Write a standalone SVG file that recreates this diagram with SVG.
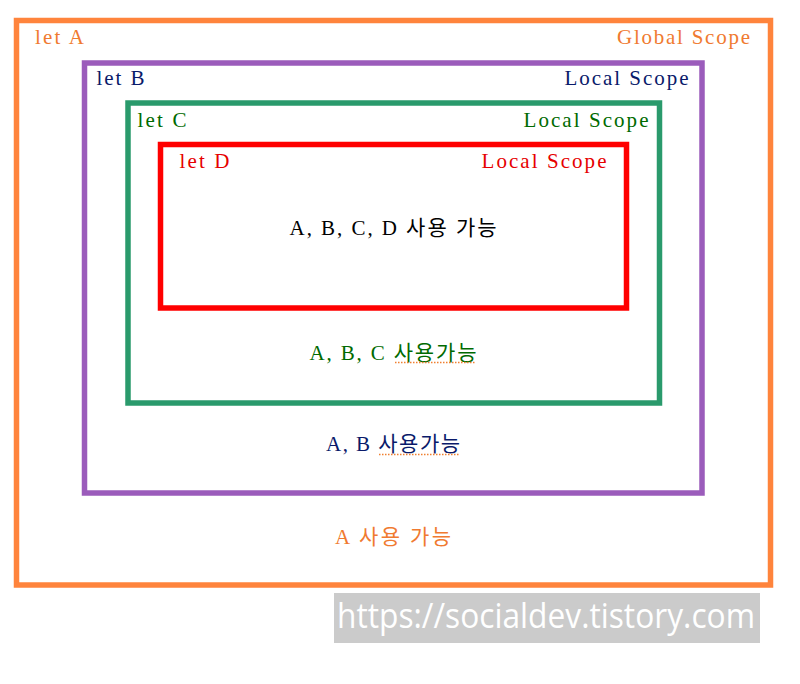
<svg xmlns="http://www.w3.org/2000/svg" width="800" height="684" viewBox="0 0 800 684">
<style>
.t{font-family:"Liberation Serif","Noto Sans CJK KR",serif;font-size:21px}
.box{fill:none;stroke-width:5.5}
.sq{stroke:#f08030;stroke-width:1.5;stroke-dasharray:1.5 1.5;fill:none}
</style>
<rect width="800" height="684" fill="#ffffff"/>
<g id="global">
<rect class="box" x="16.5" y="20.5" width="754" height="564.5" stroke="#ff843c" stroke-width="6"/>
<text class="t" x="35" y="43.5" fill="#f07a30" textLength="49" lengthAdjust="spacing">let A</text>
<text class="t" x="617" y="43.5" fill="#f07a30" textLength="133" lengthAdjust="spacing">Global Scope</text>
<text class="t" x="335" y="543.5" fill="#f07a30" textLength="116" lengthAdjust="spacing">A 사용 가능</text>
</g>
<g id="localB">
<rect class="box" x="84.5" y="63" width="617.5" height="430" stroke="#9b5cbb"/>
<text class="t" x="96.5" y="85" fill="#0a1a6a" textLength="48" lengthAdjust="spacing">let B</text>
<text class="t" x="564.5" y="85" fill="#0a1a6a" textLength="124" lengthAdjust="spacing">Local Scope</text>
<text class="t" x="326" y="451" fill="#0a1a6a" textLength="134" lengthAdjust="spacing">A, B 사용가능</text>
<path class="sq" d="M379 454.5H460"/>
</g>
<g id="localC">
<rect class="box" x="128" y="103" width="531.5" height="300" stroke="#2a9a6c"/>
<text class="t" x="137.5" y="127" fill="#006a00" textLength="49" lengthAdjust="spacing">let C</text>
<text class="t" x="523.5" y="127" fill="#006a00" textLength="125" lengthAdjust="spacing">Local Scope</text>
<text class="t" x="309.5" y="359.5" fill="#006a00" textLength="167" lengthAdjust="spacing">A, B, C 사용가능</text>
<path class="sq" d="M395 362.5H476"/>
</g>
<g id="localD">
<rect class="box" x="160.5" y="144.5" width="466" height="163.5" stroke="#ff0000"/>
<text class="t" x="179.5" y="168" fill="#e60000" textLength="50" lengthAdjust="spacing">let D</text>
<text class="t" x="481.5" y="168" fill="#e60000" textLength="125" lengthAdjust="spacing">Local Scope</text>
<text class="t" x="289.5" y="234.5" fill="#000000" textLength="207" lengthAdjust="spacing">A, B, C, D 사용 가능</text>
</g>
<g id="connectors"></g>
<g id="watermark">
<rect x="334" y="593" width="426" height="50" fill="#cbcbcb"/>
<text x="337" y="628" fill="#ffffff" font-family="Open Sans, Noto Sans, sans-serif" font-size="35" textLength="418" lengthAdjust="spacingAndGlyphs">https://socialdev.tistory.com</text>
</g>
</svg>
